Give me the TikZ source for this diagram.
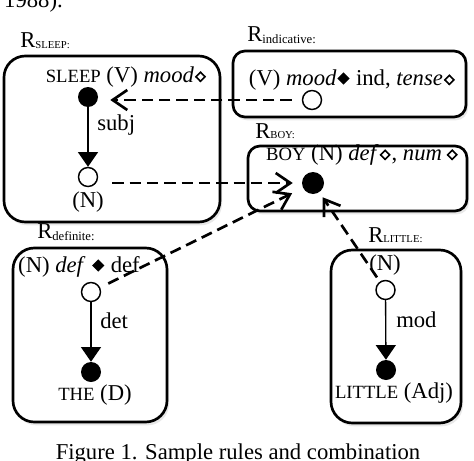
\documentclass[tikz,border=0pt]{standalone}
\usepackage{fontspec}
\usepackage{graphicx}
\setmainfont{Liberation Serif}
\usetikzlibrary{arrows.meta,shadows}
\newcommand{\odia}{\hspace{0.6pt}\raisebox{0.5pt}{\rotatebox{45}{\setlength{\fboxrule}{1.2pt}\setlength{\fboxsep}{0pt}\fbox{\rule{0pt}{3.6pt}\rule{3.6pt}{0pt}}}}\hspace{0.6pt}}
\newcommand{\fdia}{\hspace{0.6pt}\raisebox{0.3pt}{\rotatebox{45}{\rule{6.5pt}{6.5pt}}}\hspace{0.6pt}}
\newcommand{\smc}[1]{{\fontsize{14}{14}\selectfont #1}}
\newcommand{\rsub}[1]{\raisebox{-1.5pt}{\fontsize{9.5}{9}\selectfont #1}}
\newcommand{\rcsub}[1]{\raisebox{-0.5pt}{\fontsize{8}{8}\selectfont #1}}
\def\pxu{0.75pt}
\tikzset{
  rulebox/.style={draw, line width=2pt, fill=white, inner sep=0pt,
    drop shadow={opacity=0.18, shadow xshift=1.5pt, shadow yshift=-2.5pt}},
  bigr/.style={rulebox, rounded corners=16pt},
  smallr/.style={rulebox, rounded corners=9pt},
  fdot/.style={circle, fill=black, inner sep=0pt, minimum size=20*\pxu},
  odot/.style={circle, draw, line width=1.1pt, fill=white, inner sep=0pt, minimum size=19*\pxu},
  lbl/.style={inner sep=0pt, font=\fontsize{17}{20}\selectfont},
  solidarr/.style={line width=1pt, -{Triangle[length=11pt, width=15pt]}},
  dasharr/.style={line width=2pt, dash pattern=on 8.5pt off 4.5pt,
    -{Straight Barb[length=11pt, width=15pt, line width=2pt]}}
}
\begin{document}
\begin{tikzpicture}[x=0.75pt, y=-0.75pt]
\useasboundingbox (0,0) rectangle (474,460);
% boxes
\node[bigr, minimum width=216*\pxu, minimum height=166*\pxu] (bsleep) at (112,139) {};
\node[smallr, minimum width=233*\pxu, minimum height=66*\pxu] (bind) at (349.5,84) {};
\node[smallr, minimum width=219*\pxu, minimum height=65*\pxu] (bboy) at (357.5,178.5) {};
\node[bigr, minimum width=154*\pxu, minimum height=174*\pxu] (bdef) at (90,335) {};
\node[bigr, minimum width=130*\pxu, minimum height=173*\pxu] (blit) at (396,336.5) {};
% dots
\node[fdot] (sleepV) at (88,97) {};
\node[odot] (sleepN) at (88,177) {};
\node[odot] (indV) at (312,100) {};
\node[fdot, minimum size=22*\pxu] (boyN) at (313,183) {};
\node[odot] (defN) at (91,292) {};
\node[fdot] (theD) at (91,372) {};
\node[odot] (litN) at (385.5,290) {};
\node[fdot] (litA) at (386,370) {};
% solid edges
\draw[solidarr] (sleepV) -- (sleepN);
\draw[solidarr] (defN) -- (theD);
\draw[solidarr] (litN) -- (litA);
% dashed edges
\draw[dasharr, shorten <=10*\pxu, shorten >=12*\pxu] (indV.west) -- (sleepV.east |- indV.west);
\draw[dasharr, shorten <=14*\pxu, shorten >=9*\pxu] (sleepN.east |- boyN.west) -- (boyN.west);
\draw[dasharr, shorten <=9*\pxu, shorten >=12*\pxu] (defN) -- (boyN);
\draw[dasharr, shorten <=5*\pxu, shorten >=6*\pxu] (litN) -- (boyN);
% texts
\node[lbl, anchor=base east] (t1988) at (63,8) {1988).};
\node[lbl, anchor=base west] (rsleep) at (20,48) {R\rcsub{SLEEP:}};
\node[lbl, anchor=base] (lsleep) at (126,82) {\smc{SLEEP} (V) \textit{mood}\odia};
\node[lbl, anchor=base west] (rind) at (247,42) {R\rsub{indicative:}};
\node[lbl, anchor=base] (lind) at (352,85) {(V) \textit{mood}\fdia{} ind, \textit{tense}\odia};
\node[lbl, anchor=base west] (rboy) at (255,138) {R\rcsub{BOY:}};
\node[lbl, anchor=base] (lboy) at (362,160) {\smc{BOY} (N) \textit{def}\odia, \textit{num}\,\odia};
\node[lbl, anchor=base west] (rdef) at (37,238) {R\rsub{definite:}};
\node[lbl, anchor=base] (ldef) at (79,272) {(N) \textit{def} \fdia{} def};
\node[lbl, anchor=base west] (rlit) at (368,242) {R\rcsub{LITTLE:}};
\node[lbl, anchor=base] (llitn) at (385,270) {(N)};
\node[lbl, anchor=base] (lsleepn) at (88,207) {(N)};
\node[lbl, anchor=base west] (subj) at (97,130) {subj};
\node[lbl, anchor=base west] (det) at (100,328) {det};
\node[lbl, anchor=base west] (mod) at (396,327) {mod};
\node[lbl, anchor=base] (the) at (95,400) {\smc{THE} (D)};
\node[lbl, anchor=base] (little) at (394,398) {\smc{LITTLE} (Adj)};
\node[lbl, anchor=base] (cap) at (238,459) {Figure 1. Sample rules and combination};
\end{tikzpicture}
\end{document}
